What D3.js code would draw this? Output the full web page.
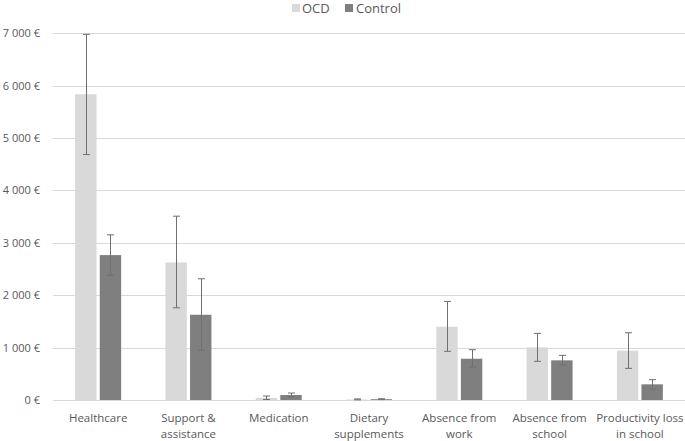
<!DOCTYPE html>
<html><head><meta charset="utf-8">
<script src="https://cdn.jsdelivr.net/npm/d3@7"></script>
<style>body{margin:0;background:#fff}svg text{font-family:"Open Sans",sans-serif;fill:#595959}</style>
</head><body><svg id="c" width="685" height="441"></svg>
<script>
const categories = [["Healthcare"],["Support &","assistance"],["Medication"],["Dietary","supplements"],["Absence from","work"],["Absence from","school"],["Productivity loss","in school"]];
const seriesNames = ["OCD","Control"];
const ocdValues = [5836, 2626, 40, 10, 1398, 1005, 941];
const ocdLow = [4686, 1760, 10, 3, 929, 738, 604];
const ocdHigh = [6980, 3509, 76, 20, 1882, 1272, 1284];
const controlValues = [2766, 1627, 95, 15, 788, 757, 299];
const controlLow = [2378, 948, 60, 8, 629, 668, 209];
const controlHigh = [3153, 2314, 133, 24, 960, 853, 388];
const yTicks = [0,1000,2000,3000,4000,5000,6000,7000];
const colors = ["#d9d9d9","#7f7f7f"];

const svg = d3.select("#c");
const pLeft = 53, pRight = 685, pTop = 33.3, pBottom = 400;
const y = d3.scaleLinear().domain([0,7000]).range([pBottom, pTop]);
const x = d3.scaleBand().domain(d3.range(categories.length)).range([pLeft, pRight]);
const inner = d3.scaleBand().domain([0,1]).range([0, 46]).paddingInner(0.13);

const fmt = v => (v>=1000 ? Math.floor(v/1000)+" "+String(v%1000).padStart(3,"0") : String(v)) + " €";

svg.append("g").selectAll("line").data(yTicks).join("line")
  .attr("x1", pLeft).attr("x2", pRight)
  .attr("y1", d=>Math.round(y(d))+0.5).attr("y2", d=>Math.round(y(d))+0.5)
  .attr("stroke","#d9d9d9").attr("stroke-width",1);

const yAxis = d3.axisLeft(y).tickValues(yTicks).tickFormat(fmt).tickSize(0).tickPadding(0);
const ga = svg.append("g").attr("transform",`translate(40,0)`).call(yAxis);
ga.select(".domain").remove();
ga.selectAll("text").style("font-size","11px").style("fill","#595959").style("font-family","'Open Sans',sans-serif");

const series = [
  {vals: ocdValues, lo: ocdLow, hi: ocdHigh},
  {vals: controlValues, lo: controlLow, hi: controlHigh}
];
series.forEach((s,si)=>{
  const g = svg.append("g");
  const bx = i => x(i) + x.bandwidth()/2 - 23 + inner(si);
  g.selectAll("rect").data(s.vals).join("rect")
    .attr("x",(d,i)=>bx(i)).attr("width",inner.bandwidth())
    .attr("y",d=>y(d)).attr("height",d=>pBottom-y(d)).attr("fill",colors[si]);
  const eg = svg.append("g").attr("stroke","#6f6f6f").attr("stroke-width",1);
  s.vals.forEach((d,i)=>{
    const cx = Math.round(bx(i)+inner.bandwidth()/2)+0.5;
    eg.append("line").attr("x1",cx).attr("x2",cx).attr("y1",y(s.hi[i])).attr("y2",y(s.lo[i]));
    eg.append("line").attr("x1",cx-3.5).attr("x2",cx+3.5).attr("y1",y(s.hi[i])).attr("y2",y(s.hi[i]));
    eg.append("line").attr("x1",cx-3.5).attr("x2",cx+3.5).attr("y1",y(s.lo[i])).attr("y2",y(s.lo[i]));
  });
});

categories.forEach((lines,i)=>{
  const t = svg.append("text").attr("text-anchor","middle").style("font-size","11.5px")
    .attr("x", x(i)+x.bandwidth()/2).attr("y", 422);
  lines.forEach((l,k)=>t.append("tspan").attr("x",x(i)+x.bandwidth()/2).attr("dy",k?15.5:0).text(l));
});

const leg = [{x:292,tx:302},{x:345,tx:356}];
seriesNames.forEach((n,i)=>{
  svg.append("rect").attr("x",leg[i].x).attr("y",4).attr("width",8).attr("height",8).attr("fill",colors[i]);
  svg.append("text").attr("x",leg[i].tx).attr("y",13).style("font-size","13px").text(n);
});
</script></body></html>
